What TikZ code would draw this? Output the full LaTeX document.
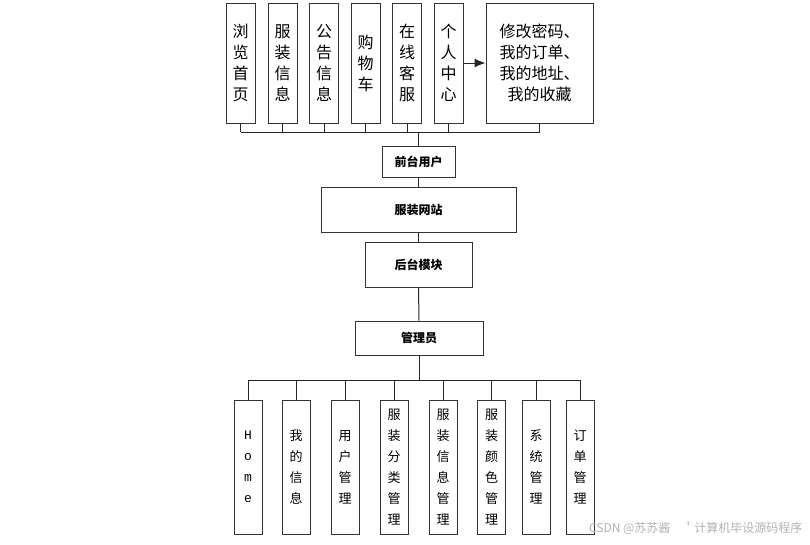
\documentclass[tikz,border=0pt]{standalone}
\usepackage{fontspec}
\usetikzlibrary{arrows.meta}
\setmainfont{Noto Sans CJK SC}
\newfontfamily\monof{Liberation Mono}
\begin{document}
\begin{tikzpicture}[x=1pt,y=-1pt,
 bx/.style={draw=black!80,line width=1pt,fill=white,inner sep=0pt},
 tb/.style={bx,minimum width=29pt,minimum height=120pt,font=\fontsize{16}{21}\selectfont,align=center},
 bb/.style={bx,minimum width=28pt,minimum height=134pt,font=\fontsize{13}{21}\selectfont,align=center},
 mb/.style={bx,font=\fontsize{12}{14}\selectfont\bfseries},
 ln/.style={line width=1pt,draw=black!85}]
\useasboundingbox (0,0) rectangle (810,544);
\node[tb] (t1) at (240.5,63) {浏\\览\\首\\页};
\node[tb] (t2) at (282.5,63) {服\\装\\信\\息};
\node[tb] (t3) at (324,63) {公\\告\\信\\息};
\node[tb] (t4) at (365.5,63) {购\\物\\车};
\node[tb] (t5) at (407,63) {在\\线\\客\\服};
\node[tb] (t6) at (448.5,63) {个\\人\\中\\心};
\node[bx,minimum width=107pt,minimum height=120pt,font=\fontsize{16}{21}\selectfont,align=center] (t7) at (539.5,63) {修改密码、\\我的订单、\\我的地址、\\我的收藏};
\draw[ln,-{Latex[length=11pt,width=9pt]}] (t6.east) -- (t7.west);
\node[mb,minimum width=73pt,minimum height=31pt] (qt) at (418.5,161.5) {前台用户};
\node[mb,minimum width=195pt,minimum height=45pt] (wz) at (418.5,209.5) {服装网站};
\node[mb,minimum width=107pt,minimum height=45pt] (ht) at (418.5,264.5) {后台模块};
\node[mb,minimum width=128pt,minimum height=34pt] (gl) at (419,338) {管理员};
\coordinate (b1) at (418.5,132);
\foreach \n in {t1,t2,t3,t4,t5,t6,t7}{\draw[ln] (\n.south) -- (\n.south |- b1);}
\draw[ln] (t1.south |- b1) -- (t7.south |- b1);
\draw[ln] (b1) -- (qt.north);
\draw[ln] (qt.south) -- (wz.north);
\draw[ln] (wz.south) -- (ht.north);
\draw[ln] (ht.south) -- (gl.north);
\node[bb] (m1) at (248,467) {\monof H\\\monof o\\\monof m\\\monof e};
\node[bb] (m2) at (296,467) {我\\的\\信\\息};
\node[bb] (m3) at (345,467) {用\\户\\管\\理};
\node[bb] (m4) at (394,467) {服\\装\\分\\类\\管\\理};
\node[bb] (m5) at (443,467) {服\\装\\信\\息\\管\\理};
\node[bb] (m6) at (491.5,467) {服\\装\\颜\\色\\管\\理};
\node[bb] (m7) at (536,467) {系\\统\\管\\理};
\node[bb] (m8) at (580,467) {订\\单\\管\\理};
\coordinate (b2) at (419,380);
\draw[ln] (gl.south) -- (b2);
\foreach \n in {m1,m2,m3,m4,m5,m6,m7,m8}{\draw[ln] (\n.north) -- (\n.north |- b2);}
\draw[ln] (m1.north |- b2) -- (m8.north |- b2);
\node[text=black!30,font=\fontsize{12}{14}\selectfont,anchor=east] (wm) at (806,528) {CSDN @苏苏酱\quad ＇计算机毕设源码程序};
\end{tikzpicture}
\end{document}
